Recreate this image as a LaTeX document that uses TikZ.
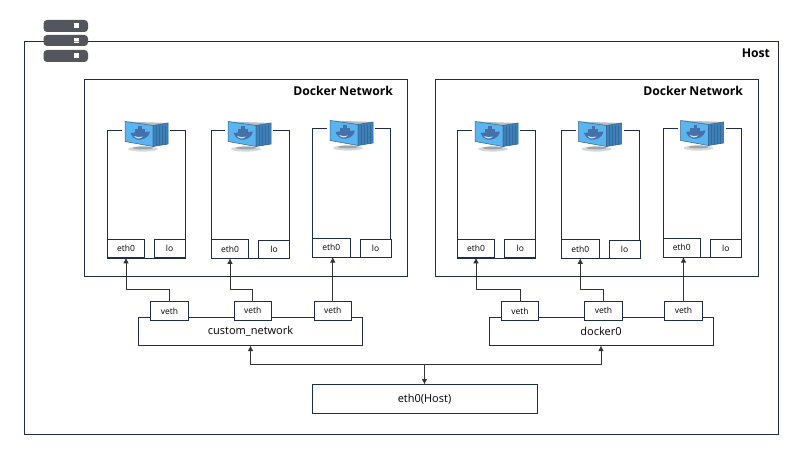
\documentclass[tikz,border=0pt]{standalone}
\usepackage{fontspec}
\setmainfont{Open Sans}
\usetikzlibrary{arrows.meta}
\definecolor{c1f2d4d}{RGB}{31,45,77}
\definecolor{c53565c}{RGB}{83,86,92}
\definecolor{c5ab4ee}{RGB}{90,180,238}
\definecolor{c3c7fb4}{RGB}{62,128,184}
\definecolor{c4d78b0}{RGB}{70,112,170}
\definecolor{c33699b}{RGB}{51,105,155}
\definecolor{c2d5f8c}{RGB}{45,95,140}
\definecolor{cb4bdc4}{RGB}{180,189,196}
\definecolor{cd5d8da}{RGB}{213,216,218}
\definecolor{c9fa5a8}{RGB}{159,165,168}
\tikzset{
  framebox/.style={draw=c1f2d4d,line width=0.9pt,fill=white,inner sep=0pt},
  portbox/.style={framebox,font=\fontsize{8.5}{10}\selectfont},
  busbox/.style={framebox,minimum height=28.5pt,font=\fontsize{11}{13}\selectfont},
  titletext/.style={anchor=east,font=\fontsize{12.2}{14}\selectfont\bfseries},
  linkline/.style={draw=black!80,line width=0.8pt,-{Latex[length=5.5pt,width=5.5pt]}},
}
\newcommand{\dockericon}[2]{%
  \begin{scope}[shift={(#1,#2)}]
    \path[fill=white] (-3,-2) rectangle (45,24);
    \path[fill=cd5d8da] (18,27.5) ellipse (15 and 2.6);
    \path[fill=c9fa5a8] (18,26.5) ellipse (10 and 1.4);
    \path[fill=cb4bdc4] (0,0) -- (43,1.5) -- (28,4) -- cycle;
    \path[fill=c5ab4ee,draw=c2d5f8c,line width=0.5pt] (0,0) -- (28,4) -- (28,25) -- (0,20) -- cycle;
    \path[fill=c3c7fb4,draw=c2d5f8c,line width=0.5pt] (28,4) -- (43,1.5) -- (43,22.5) -- (28,25) -- cycle;
    \foreach \i in {31,34,37,40}
      \path[draw=c33699b,line width=0.4pt] (\i,4) -- (\i,23.5);
    \path[fill=c4d78b0] (5.5,11.5) .. controls (10,10.5) and (19,11) .. (25,10) .. controls (24,16.5) and (17,19) .. (12,18) .. controls (9,17.5) and (7,15) .. (5.5,11.5) -- cycle;
    \path[fill=c4d78b0] (9.5,7.5) rectangle (19.5,11);
    \path[fill=c4d78b0] (13,4.5) rectangle (16.5,7.5);
    \path[fill=white!70!c5ab4ee] (9,14.5) .. controls (12,16) and (15,16) .. (18,15) .. controls (15,18) and (11,17.5) .. (9,14.5) -- cycle;
  \end{scope}}

\begin{document}
\begin{tikzpicture}[y=1pt,x=1pt,yscale=-1, inner sep=0pt, outer sep=0pt]
  \useasboundingbox (0,0) rectangle (800,452);
  % host and networks
  \path (401,237.75) node[framebox,minimum width=754pt,minimum height=392.5pt] (host) {};
  \path (245.5,177.5) node[framebox,minimum width=323pt,minimum height=197pt] (netleft) {};
  \path (596.5,177.5) node[framebox,minimum width=323pt,minimum height=197pt] (netright) {};
  \path (770,53) node[titletext] (hostlabel) {Host};
  \path (393,90.5) node[titletext] (netleftlabel) {Docker Network};
  \path (743,90.5) node[titletext] (netrightlabel) {Docker Network};
  % server icon
  \foreach \y/\h in {20/12,35/11,50/12} {
    \path[fill=c53565c,rounded corners=3.5pt] (43.5,\y) rectangle (88,\y+\h);
    \path[fill=white] (74,\y+3) rectangle (79.3,\y+8.5);
  }
  \path[draw=c9fa5a8,line width=0.9pt] (74,41.5) -- (79.3,41.5);
  % containers
  \foreach \n/\x/\t/\b in {a/146/130/258,b/250.25/130/258,c/351.75/128.5/257,d/496.5/130/258,e/600.75/130/258,f/702/128.5/257} {
    \path (\x,\t/2+\b/2) node[framebox,minimum width=78pt,minimum height=\b pt-\t pt] (box\n) {};
  }
  \dockericon{125}{121.5}
  \dockericon{228}{121.5}
  \dockericon{330}{120.5}
  \dockericon{475}{121.5}
  \dockericon{578.5}{121.5}
  \dockericon{680.5}{120.5}
  % ports
  \foreach \n/\x/\y in {a/126/248.5,b/230/249,c/331.25/247.75,d/476/248.5,e/580.25/249,f/681.75/247.75}
    \path (\x,\y) node[portbox,minimum width=37.5pt,minimum height=18.5pt] (eth\n) {eth0};
  \foreach \n/\x/\y in {a/169.5/248.5,b/274/249.25,c/375.5/248,d/520.25/248.5,e/624.5/249.25,f/725.75/248}
    \path (\x,\y) node[portbox,minimum width=31pt,minimum height=18pt] (lo\n) {lo};
  % bridges
  \path (250.5,331.25) node[busbox,minimum width=224pt] (custom) {custom\_network};
  \path (601,331.25) node[busbox,minimum width=224pt] (dockerzero) {docker0};
  \path (424.5,398.75) node[busbox,minimum width=225pt] (ethhost) {eth0(Host)};
  \foreach \n/\x/\y in {a/169.5/311,b/252.75/310.75,c/332.75/310.75,d/520/311,e/603.5/310.75,f/683.5/310.75}
    \path (\x,\y) node[portbox,minimum width=37.5pt,minimum height=18.5pt] (veth\n) {veth};
  % links
  \foreach \n in {a,b,d,e}
    \path[linkline] (veth\n.north) -- ++(0,-12.5) -| (eth\n.south);
  \path[linkline] (vethc.north) -- (vethc.north |- ethc.south);
  \path[linkline] (vethf.north) -- (vethf.north |- ethf.south);
  \coordinate (busmid) at (ethhost.north |- 0,364.5);
  \path[linkline] (busmid) -| (custom.south);
  \path[linkline] (busmid) -| (dockerzero.south);
  \path[linkline] (busmid) -- (ethhost.north);
\end{tikzpicture}
\end{document}
